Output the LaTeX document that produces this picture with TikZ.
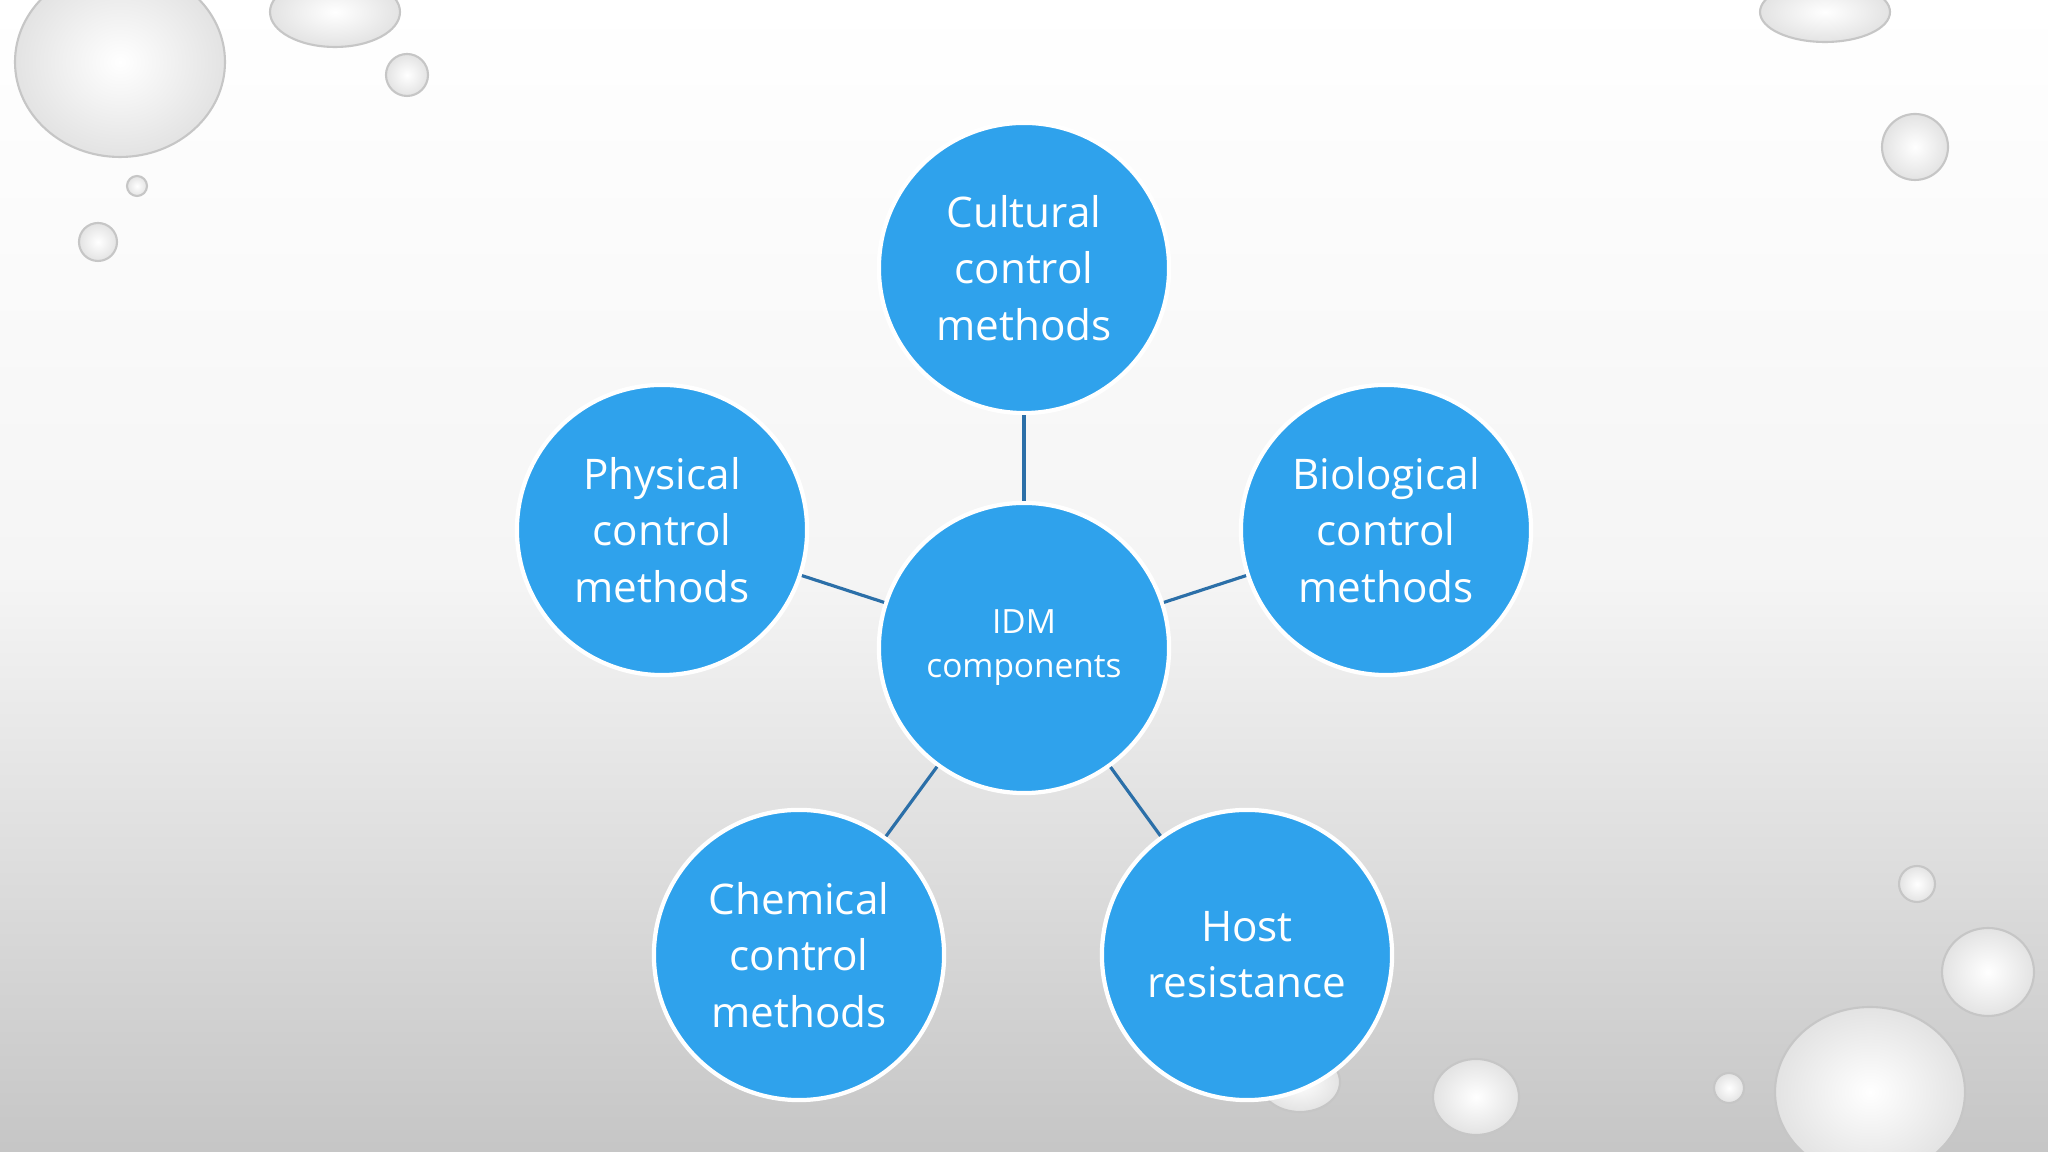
\documentclass[tikz,border=0pt]{standalone}
\usepackage{fontspec}
\setmainfont{Open Sans}
\begin{document}
\begin{tikzpicture}[x=0.01cm,y=0.01cm,
  bub/.style={circle,fill=bubblue,draw=white,line width=1.2pt,minimum size=2.9cm,inner sep=0pt,
    text=white,align=center,font=\fontsize{12}{16}\selectfont},
  link/.style={draw=linkblue,line width=0.9pt},
  drop/.style={draw=gray!45,line width=0.6pt,inner color=white,outer color=gray!22}]
\definecolor{bubblue}{HTML}{2FA2EC}
\definecolor{linkblue}{HTML}{2B6FA8}
\shade[top color=white,bottom color=gray!45,middle color=gray!8] (0,0) rectangle (2048,1152);
\useasboundingbox (0,0) rectangle (2048,1152);
% water drops
\shade[drop] (120,1090) ellipse (105 and 95);
\shade[drop] (335,1140) ellipse (65 and 35);
\shade[drop] (407,1077) circle (21);
\shade[drop] (137,966) circle (10);
\shade[drop] (98,910) circle (19);
\shade[drop] (1825,1140) ellipse (65 and 30);
\shade[drop] (1915,1005) circle (33);
\shade[drop] (1917,268) circle (18);
\shade[drop] (1988,180) ellipse (46 and 44);
\shade[drop] (1476,55) ellipse (43 and 38);
\shade[drop] (1729,64) circle (15);
\shade[drop] (1870,60) ellipse (95 and 85);
\shade[drop] (1300,70) ellipse (40 and 30);
\node[bub,font=\fontsize{9.5}{12.5}\selectfont] (idm) at (1024,504) {IDM\\components};
\node[bub] (cul) at (1024,884) {Cultural\\control\\methods};
\node[bub] (phy) at (662,622) {Physical\\control\\methods};
\node[bub] (bio) at (1386,622) {Biological\\control\\methods};
\node[bub] (che) at (799,197) {Chemical\\control\\methods};
\node[bub] (hos) at (1247,197) {Host\\resistance};
\foreach \n in {cul,phy,bio,che,hos}
  \draw[link] (idm) -- (\n);
\end{tikzpicture}
\end{document}
